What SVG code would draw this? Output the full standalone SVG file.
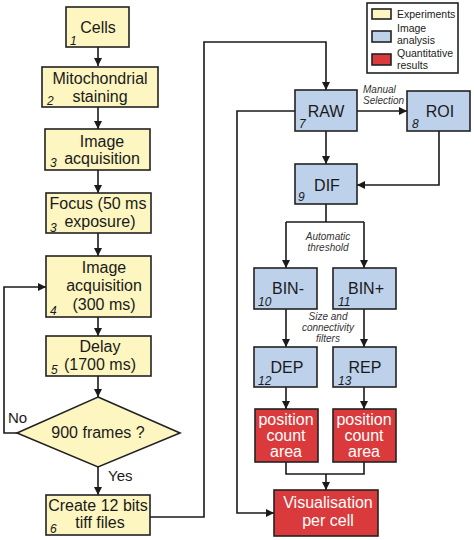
<svg xmlns="http://www.w3.org/2000/svg" width="474" height="540" viewBox="0 0 474 540">
<defs>
<marker id="ah" viewBox="0 0 10 10" refX="10" refY="5" markerWidth="8" markerHeight="8" markerUnits="userSpaceOnUse" orient="auto">
<path d="M0,0 L10,5 L0,10 z" fill="#1a1a1a"/>
</marker>
<style>
.y{fill:#FDF6C0;stroke:#222;stroke-width:1.6}
.b{fill:#BDD1EB;stroke:#222;stroke-width:1.6}
.r{fill:#DB3A3C;stroke:#222;stroke-width:1.6}
.t{font-family:"Liberation Sans",Arial,sans-serif;font-size:16px;fill:#1a1a1a;text-anchor:middle}
.w{font-family:"Liberation Sans",Arial,sans-serif;font-size:16px;fill:#fff;text-anchor:middle}
.n{font-family:"Liberation Sans",Arial,sans-serif;font-size:12px;font-style:italic;fill:#1a1a1a}
.s{font-family:"Liberation Sans",Arial,sans-serif;font-size:10px;font-style:italic;fill:#333}
.l{font-family:"Liberation Sans",Arial,sans-serif;font-size:10.5px;fill:#1a1a1a}
.c{fill:none;stroke:#1a1a1a;stroke-width:1.6}
.a{fill:none;stroke:#1a1a1a;stroke-width:1.6;marker-end:url(#ah)}
</style>
</defs>

<g id="legend">
<rect x="367" y="3" width="91" height="70" fill="#fff" stroke="#222" stroke-width="1.6"/>
<rect x="372" y="9" width="19" height="10" class="y"/>
<rect x="372" y="31" width="19" height="11" class="b"/>
<rect x="372" y="54" width="19" height="11" class="r"/>
<text x="397" y="18" class="l">Experiments</text>
<text x="397" y="32" class="l">Image</text>
<text x="397" y="44" class="l">analysis</text>
<text x="397" y="57" class="l">Quantitative</text>
<text x="397" y="69" class="l">results</text>
</g>

<g id="connectors">
<path class="a" d="M98,47 V66"/>
<path class="a" d="M98,107 V129"/>
<path class="a" d="M98,170 V193"/>
<path class="a" d="M98,233 V256"/>
<path class="a" d="M98,317 V336"/>
<path class="a" d="M98,376 V397"/>
<path class="a" d="M17,433 H4 V287 H46"/>
<path class="a" d="M98,467 V495"/>
<path class="a" d="M150,517 H204 V42 H326 V90"/>
<path class="a" d="M357,111 H407"/>
<path class="a" d="M326,131 V164"/>
<path class="a" d="M439,131 V185 H357"/>
<path class="a" d="M295,111 H237 V513 H274"/>
<path class="c" d="M326,204 V222 M286,222 H364"/>
<path class="a" d="M286,222 V268"/>
<path class="a" d="M364,222 V268"/>
<path class="a" d="M286,309 V347"/>
<path class="a" d="M364,309 V347"/>
<path class="a" d="M286,387 V409"/>
<path class="a" d="M364,387 V409"/>
<path class="c" d="M286,462 V474 H364 V462"/>
<path class="a" d="M326,474 V490"/>
<text x="363" y="93" class="s">Manual</text>
<text x="363" y="104" class="s">Selection</text>
<text x="328" y="240" class="s" text-anchor="middle">Automatic</text>
<text x="328" y="251" class="s" text-anchor="middle">threshold</text>
<text x="328" y="320" class="s" text-anchor="middle">Size and</text>
<text x="328" y="331" class="s" text-anchor="middle">connectivity</text>
<text x="328" y="342" class="s" text-anchor="middle">filters</text>
<text x="8" y="423" class="t" style="text-anchor:start;font-size:15px">No</text>
<text x="108" y="481" class="t" style="text-anchor:start;font-size:15px">Yes</text>
</g>

<g id="n1">
<rect x="66" y="7" width="63" height="40" class="y"/>
<text x="98" y="33" class="t">Cells</text>
<text x="70" y="45" class="n">1</text>
</g>
<g id="n2">
<rect x="42" y="67" width="116" height="40" class="y"/>
<text x="100" y="84" class="t">Mitochondrial</text>
<text x="100" y="102" class="t">staining</text>
<text x="47" y="105" class="n">2</text>
</g>
<g id="n3">
<rect x="45" y="129" width="105" height="41" class="y"/>
<text x="102" y="147" class="t">Image</text>
<text x="102" y="164" class="t">acquisition</text>
<text x="50" y="167" class="n">3</text>
</g>
<g id="n3b">
<rect x="46" y="193" width="105" height="40" class="y"/>
<text x="98" y="209" class="t">Focus (50 ms</text>
<text x="100" y="227" class="t">exposure)</text>
<text x="50" y="232" class="n">3</text>
</g>
<g id="n4">
<rect x="46" y="256" width="105" height="61" class="y"/>
<text x="104" y="273" class="t">Image</text>
<text x="104" y="291" class="t">acquisition</text>
<text x="104" y="310" class="t">(300 ms)</text>
<text x="50" y="315" class="n">4</text>
</g>
<g id="n5">
<rect x="46" y="336" width="105" height="40" class="y"/>
<text x="100" y="352" class="t">Delay</text>
<text x="100" y="370" class="t">(1700 ms)</text>
<text x="51" y="374" class="n">5</text>
</g>
<g id="d1">
<polygon points="98,397 180,433 98,467 17,433" class="y"/>
<text x="98" y="438" class="t">900 frames ?</text>
</g>
<g id="n6">
<rect x="46" y="495" width="104" height="40" class="y"/>
<text x="98" y="511" class="t">Create 12 bits</text>
<text x="100" y="528" class="t">tiff files</text>
<text x="50" y="533" class="n">6</text>
</g>

<g id="n7">
<rect x="295" y="90" width="62" height="41" class="b"/>
<text x="326" y="117" class="t">RAW</text>
<text x="299" y="128" class="n">7</text>
</g>
<g id="n8">
<rect x="407" y="91" width="63" height="40" class="b"/>
<text x="440" y="117" class="t">ROI</text>
<text x="412" y="128" class="n">8</text>
</g>
<g id="n9">
<rect x="295" y="164" width="62" height="40" class="b"/>
<text x="327" y="191" class="t">DIF</text>
<text x="298" y="201" class="n">9</text>
</g>
<g id="n10">
<rect x="254" y="268" width="63" height="41" class="b"/>
<text x="288" y="294" class="t">BIN-</text>
<text x="258" y="306" class="n">10</text>
</g>
<g id="n11">
<rect x="333" y="268" width="63" height="41" class="b"/>
<text x="366" y="294" class="t">BIN+</text>
<text x="338" y="306" class="n">11</text>
</g>
<g id="n12">
<rect x="254" y="347" width="63" height="40" class="b"/>
<text x="287" y="373" class="t">DEP</text>
<text x="258" y="385" class="n">12</text>
</g>
<g id="n13">
<rect x="333" y="347" width="63" height="40" class="b"/>
<text x="365" y="373" class="t">REP</text>
<text x="338" y="385" class="n">13</text>
</g>
<g id="r1">
<rect x="255" y="409" width="63" height="53" class="r"/>
<text x="286" y="425" class="w">position</text>
<text x="286" y="441" class="w">count</text>
<text x="286" y="457" class="w">area</text>
</g>
<g id="r2">
<rect x="333" y="409" width="63" height="53" class="r"/>
<text x="364" y="425" class="w">position</text>
<text x="364" y="441" class="w">count</text>
<text x="364" y="457" class="w">area</text>
</g>
<g id="r3">
<rect x="274" y="490" width="104" height="46" class="r"/>
<text x="328" y="508" class="w">Visualisation</text>
<text x="328" y="526" class="w">per cell</text>
</g>
</svg>
